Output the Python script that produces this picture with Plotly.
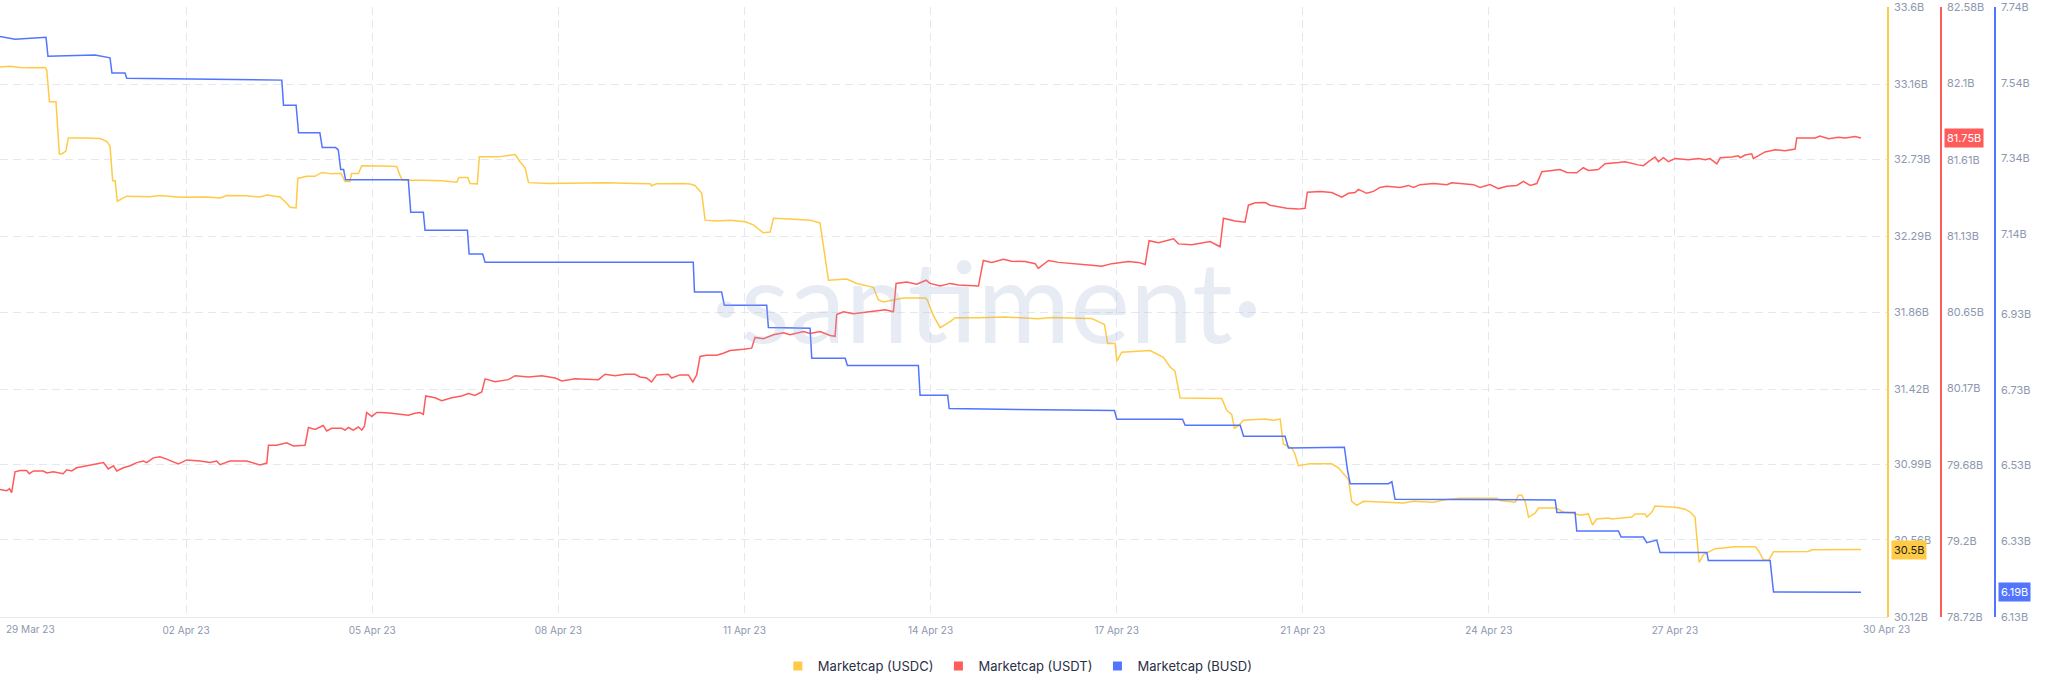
import pandas as pd
import plotly.graph_objects as go

# ---------------- data ----------------
START = pd.Timestamp("2023-03-29 23:00")

x_tick_labels = ["29 Mar 23", "02 Apr 23", "05 Apr 23", "08 Apr 23", "11 Apr 23", "14 Apr 23",
                 "17 Apr 23", "21 Apr 23", "24 Apr 23", "27 Apr 23", "30 Apr 23"]

usdc_ticks = [30.12, 30.56, 30.99, 31.42, 31.86, 32.29, 32.73, 33.16, 33.6]
usdc_tick_text = ["30.12B", "30.56B", "30.99B", "31.42B", "31.86B", "32.29B", "32.73B", "33.16B", "33.6B"]
usdt_ticks = [78.72, 79.2, 79.68, 80.17, 80.65, 81.13, 81.61, 82.1, 82.58]
usdt_tick_text = ["78.72B", "79.2B", "79.68B", "80.17B", "80.65B", "81.13B", "81.61B", "82.1B", "82.58B"]
busd_ticks = [6.13, 6.33, 6.53, 6.73, 6.93, 7.14, 7.34, 7.54, 7.74]
busd_tick_text = ["6.13B", "6.33B", "6.53B", "6.73B", "6.93B", "7.14B", "7.34B", "7.54B", "7.74B"]

end_labels = ["30.5B", "81.75B", "6.19B"]
series_names = ["Marketcap (USDC)", "Marketcap (USDT)", "Marketcap (BUSD)"]

# hours since START
usdc_hours = [0, 4.1, 8.3, 12.4, 18.6, 19.3, 20.4, 23.1, 24.5, 25.5, 27.2, 28.2, 34.4, 41.3, 44.0, 45.4, 46.5,
              47.5, 48.4, 50.2, 52.3, 61.9, 66.0, 74.3, 85.3, 90.8, 93.6, 101.8, 107.3, 110.1, 115.6, 118.3,
              119.7, 122.2, 122.9, 126.6, 130.0, 132.8, 136.9, 140.7, 142.4, 144.4, 145.1, 147.9, 149.3, 157.5,
              163.7, 165.1, 166.1, 174.0, 182.3, 188.5, 189.4, 193.0, 194.0, 197.0, 197.8, 205.7, 212.6, 214.6,
              216.7, 218.1, 226.3, 234.6, 249.7, 262.1, 268.3, 268.9, 271.0, 282.0, 284.8, 286.8, 289.6, 291.0,
              295.8, 301.3, 307.5, 310.9, 315.0, 317.8, 319.2, 326.0, 334.3, 338.4, 341.9, 349.4, 353.6, 360.4,
              362.5, 364.6, 368.7, 372.8, 381.8, 382.7, 385.2, 388.0, 392.1, 394.1, 403.8, 414.8, 428.5, 434.0,
              445.0, 450.5, 453.3, 455.8, 457.1, 460.2, 460.9, 462.9, 474.6, 478.1, 480.1, 482.9, 484.9, 487.0,
              504.2, 506.3, 508.3, 509.4, 511.1, 513.2, 522.1, 525.5, 528.3, 529.6, 533.1, 534.4, 535.8, 540.6,
              549.6, 552.3, 554.4, 556.5, 557.8, 559.9, 562.7, 577.8, 579.2, 583.3, 591.6, 597.1, 602.6, 617.7,
              619.1, 625.3, 626.6, 628.0, 629.4, 630.8, 633.5, 634.9, 641.8, 643.2, 645.2, 649.3, 652.1, 655.5,
              657.2, 658.9, 663.8, 665.1, 673.4, 674.8, 678.9, 679.6, 681.6, 683.0, 691.3, 695.4, 697.5, 699.5,
              701.2, 703.0, 705.0, 707.8, 716.0, 724.3, 725.7, 727.7, 729.8, 731.9, 746.3, 747.7, 768.0]
usdc_values = [33.258, 33.262, 33.255, 33.253, 33.255, 33.240, 33.059, 33.059, 32.762, 32.762, 32.778, 32.852,
               32.852, 32.850, 32.834, 32.807, 32.609, 32.609, 32.492, 32.505, 32.521, 32.518, 32.525, 32.515,
               32.516, 32.510, 32.525, 32.523, 32.516, 32.527, 32.516, 32.481, 32.458, 32.454, 32.622, 32.634,
               32.634, 32.656, 32.648, 32.652, 32.604, 32.604, 32.650, 32.650, 32.695, 32.693, 32.690, 32.638,
               32.611, 32.611, 32.609, 32.600, 32.627, 32.627, 32.593, 32.591, 32.746, 32.745, 32.758, 32.717,
               32.683, 32.598, 32.593, 32.595, 32.598, 32.593, 32.592, 32.580, 32.592, 32.593, 32.590, 32.582,
               32.537, 32.384, 32.379, 32.384, 32.375, 32.357, 32.312, 32.316, 32.395, 32.390, 32.384, 32.368,
               32.041, 32.048, 32.023, 32.001, 31.929, 31.917, 31.929, 31.940, 31.940, 31.929, 31.839, 31.771,
               31.805, 31.827, 31.827, 31.831, 31.822, 31.829, 31.825, 31.823, 31.805, 31.789, 31.681, 31.681,
               31.580, 31.631, 31.640, 31.613, 31.602, 31.546, 31.523, 31.370, 31.366, 31.298, 31.276, 31.197,
               31.212, 31.242, 31.249, 31.242, 31.249, 31.107, 31.084, 31.050, 30.983, 30.994, 30.994, 30.971,
               30.938, 30.904, 30.780, 30.757, 30.780, 30.775, 30.771, 30.780, 30.775, 30.791, 30.798, 30.798,
               30.784, 30.775, 30.814, 30.814, 30.780, 30.690, 30.712, 30.742, 30.742, 30.735, 30.717, 30.712,
               30.701, 30.708, 30.645, 30.679, 30.685, 30.679, 30.690, 30.708, 30.708, 30.690, 30.717, 30.753,
               30.746, 30.735, 30.719, 30.690, 30.431, 30.476, 30.492, 30.510, 30.521, 30.521, 30.498, 30.447,
               30.442, 30.492, 30.494, 30.503, 30.505]

usdt_hours = [0, 2.8, 3.9, 4.8, 6.2, 8.3, 11.0, 12.1, 13.8, 17.9, 19.3, 22.0, 26.1, 27.5, 29.6, 31.6, 35.8,
              39.9, 42.7, 44.7, 46.8, 48.2, 50.9, 53.7, 56.4, 59.2, 60.5, 63.3, 66.0, 68.8, 73.6, 77.1, 82.6,
              86.7, 89.4, 90.8, 94.9, 101.8, 107.3, 110.1, 110.8, 114.2, 118.3, 121.1, 125.9, 127.3, 130.0,
              133.4, 134.8, 136.9, 141.0, 142.4, 143.8, 145.8, 147.9, 149.3, 150.4, 151.3, 153.4, 155.5, 157.5,
              161.6, 165.1, 168.5, 171.3, 173.3, 174.7, 175.7, 179.5, 182.3, 186.4, 190.5, 193.3, 196.0, 198.8,
              200.2, 204.3, 209.8, 212.6, 218.1, 223.6, 229.1, 231.8, 237.3, 247.0, 249.7, 253.8, 258.0, 262.1,
              264.1, 266.9, 268.9, 271.0, 275.8, 277.2, 280.6, 284.1, 285.9, 287.5, 288.9, 291.6, 295.8, 298.5,
              301.3, 306.8, 310.2, 311.6, 315.0, 319.2, 323.3, 326.0, 330.2, 331.6, 334.3, 338.4, 342.6, 344.6,
              345.3, 348.1, 352.2, 356.3, 361.8, 365.3, 368.7, 369.8, 374.2, 378.3, 382.2, 383.8, 388.0, 392.1,
              395.5, 403.8, 405.8, 409.3, 414.1, 417.5, 423.0, 427.2, 428.5, 432.7, 436.8, 445.0, 450.5, 454.7,
              458.8, 465.7, 469.8, 472.6, 474.2, 478.1, 484.3, 486.3, 491.8, 499.4, 503.5, 504.9, 509.7, 513.8,
              515.2, 518.0, 522.1, 524.1, 528.3, 531.0, 535.8, 538.6, 539.5, 544.8, 549.6, 552.3, 553.7, 556.5,
              559.2, 560.6, 564.0, 566.8, 569.5, 572.3, 577.8, 581.2, 583.3, 586.0, 591.6, 597.1, 599.1, 602.6,
              608.1, 610.8, 614.9, 618.4, 621.8, 626.0, 628.7, 631.5, 634.2, 636.3, 639.7, 643.8, 646.6, 650.7,
              653.4, 655.5, 659.6, 662.4, 667.9, 670.6, 676.1, 678.2, 680.3, 683.0, 684.4, 686.5, 688.5, 691.3,
              696.8, 700.9, 703.7, 705.7, 708.5, 709.9, 714.7, 717.4, 718.1, 720.2, 722.9, 723.6, 726.4, 728.4,
              732.6, 736.7, 740.8, 741.5, 749.1, 751.1, 754.6, 758.7, 761.5, 765.6, 768.0]
usdt_values = [79.527, 79.519, 79.532, 79.507, 79.639, 79.647, 79.647, 79.627, 79.644, 79.644, 79.632, 79.639,
               79.627, 79.652, 79.644, 79.664, 79.677, 79.689, 79.697, 79.657, 79.677, 79.644, 79.664, 79.677,
               79.697, 79.707, 79.697, 79.727, 79.734, 79.719, 79.689, 79.714, 79.707, 79.697, 79.707, 79.684,
               79.707, 79.707, 79.682, 79.694, 79.807, 79.807, 79.822, 79.802, 79.807, 79.919, 79.907, 79.932,
               79.897, 79.914, 79.914, 79.902, 79.919, 79.902, 79.922, 79.902, 79.927, 80.014, 79.989, 80.014,
               80.014, 80.009, 80.002, 79.997, 80.009, 80.014, 80.002, 80.119, 80.107, 80.089, 80.107, 80.119,
               80.134, 80.122, 80.144, 80.227, 80.209, 80.222, 80.247, 80.239, 80.247, 80.232, 80.214, 80.227,
               80.222, 80.256, 80.247, 80.256, 80.256, 80.239, 80.232, 80.207, 80.252, 80.256, 80.232, 80.252,
               80.252, 80.207, 80.252, 80.369, 80.376, 80.376, 80.389, 80.406, 80.414, 80.421, 80.489, 80.481,
               80.506, 80.519, 80.506, 80.521, 80.526, 80.514, 80.526, 80.501, 80.496, 80.634, 80.651, 80.639,
               80.646, 80.656, 80.664, 80.651, 80.831, 80.839, 80.826, 80.851, 80.831, 80.814, 80.831, 80.821,
               80.814, 80.976, 80.964, 80.984, 80.971, 80.969, 80.956, 80.926, 80.976, 80.964, 80.956, 80.946,
               80.939, 80.956, 80.969, 80.964, 80.951, 81.101, 81.088, 81.113, 81.081, 81.076, 81.096, 81.063,
               81.243, 81.226, 81.218, 81.326, 81.341, 81.343, 81.326, 81.313, 81.306, 81.301, 81.306, 81.408,
               81.413, 81.406, 81.388, 81.376, 81.401, 81.406, 81.426, 81.401, 81.413, 81.438, 81.446, 81.438,
               81.451, 81.438, 81.456, 81.463, 81.456, 81.468, 81.463, 81.456, 81.438, 81.456, 81.431, 81.446,
               81.451, 81.476, 81.451, 81.463, 81.538, 81.546, 81.551, 81.533, 81.531, 81.563, 81.546, 81.551,
               81.588, 81.596, 81.601, 81.581, 81.576, 81.601, 81.631, 81.601, 81.626, 81.601, 81.621, 81.613,
               81.621, 81.613, 81.621, 81.588, 81.626, 81.631, 81.638, 81.626, 81.643, 81.651, 81.621, 81.646,
               81.663, 81.676, 81.671, 81.681, 81.751, 81.751, 81.763, 81.746, 81.756, 81.751, 81.761, 81.751]

busd_hours = [0, 6.2, 19.0, 19.8, 39.2, 45.4, 46.2, 51.6, 52.3, 84.0, 116.3, 117.0, 122.2, 123.2, 132.0, 133.0,
              138.5, 139.6, 140.6, 141.8, 142.6, 168.5, 169.5, 174.7, 175.4, 192.9, 193.6, 199.2, 200.2, 286.1,
              286.6, 297.8, 298.9, 316.4, 317.1, 334.3, 335.0, 348.8, 349.7, 379.0, 379.7, 391.1, 391.7, 459.9,
              460.9, 488.0, 489.1, 511.8, 513.2, 530.3, 531.7, 554.8, 556.1, 557.2, 573.0, 574.4, 575.7, 641.8,
              642.5, 650.0, 650.7, 667.9, 669.0, 678.2, 679.6, 683.7, 685.1, 704.4, 705.0, 730.5, 731.9, 768.0]
busd_values = [7.662, 7.655, 7.660, 7.610, 7.613, 7.606, 7.566, 7.566, 7.552, 7.550, 7.547, 7.481, 7.481, 7.408,
               7.408, 7.369, 7.369, 7.363, 7.311, 7.311, 7.284, 7.284, 7.198, 7.198, 7.151, 7.151, 7.088, 7.088,
               7.066, 7.066, 6.988, 6.988, 6.953, 6.953, 6.894, 6.892, 6.813, 6.813, 6.794, 6.794, 6.715, 6.715,
               6.680, 6.675, 6.652, 6.652, 6.636, 6.636, 6.607, 6.607, 6.576, 6.578, 6.517, 6.482, 6.482, 6.487,
               6.441, 6.439, 6.406, 6.406, 6.357, 6.357, 6.341, 6.341, 6.326, 6.333, 6.300, 6.300, 6.279, 6.279,
               6.196, 6.195]

for hh, vv in [(usdc_hours, usdc_values), (usdt_hours, usdt_values), (busd_hours, busd_values)]:
    if len(hh) != len(vv):
        raise ValueError(f"length mismatch {len(hh)} vs {len(vv)}")

# ---------------- styling ----------------
W, H = 2048, 693
PLOT_RIGHT = 1888
C_USDC, C_USDT, C_BUSD = "#FFCB47", "#FF5B5B", "#5275FF"
TICK_COLOR = "#8D97B0"
GRID = "#E4E8F0"
FONT = "Inter, Roboto, sans-serif"

HOURS_SPAN = 768.0          # data span
VIEW_HOURS = HOURS_SPAN * PLOT_RIGHT / 1861.0
TICK_STEP = HOURS_SPAN / 10


def to_dates(hours):
    return [START + pd.Timedelta(hours=h) for h in hours]


tick_dates = [START + pd.Timedelta(hours=TICK_STEP * k) for k in range(len(x_tick_labels))]

fig = go.Figure()
for hh, vv, col, ax in [(usdc_hours, usdc_values, C_USDC, "y"),
                        (usdt_hours, usdt_values, C_USDT, "y2"),
                        (busd_hours, busd_values, C_BUSD, "y3")]:
    fig.add_trace(go.Scatter(x=to_dates(hh), y=vv, mode="lines", yaxis=ax,
                             line=dict(color=col, width=1.5), showlegend=False, hoverinfo="skip"))

# legend entries (square swatches)
for name, col in zip(series_names, [C_USDC, C_USDT, C_BUSD]):
    fig.add_trace(go.Scatter(x=[None], y=[None], mode="markers", name=name,
                             marker=dict(symbol="square", size=9, color=col)))

yaxis_common = dict(side="right", anchor="free", zeroline=False, showline=True, linewidth=1.5,
                    ticks="outside", ticklen=3, tickcolor="rgba(0,0,0,0)",
                    ticklabeloverflow="allow",
                    tickfont=dict(family=FONT, size=11, color=TICK_COLOR), fixedrange=True)

fig.update_layout(
    width=W, height=H,
    margin=dict(l=0, r=0, t=7, b=76),
    paper_bgcolor="white", plot_bgcolor="white",
    font=dict(family=FONT),
    xaxis=dict(
        domain=[0, PLOT_RIGHT / W], type="date",
        range=[START, START + pd.Timedelta(hours=VIEW_HOURS)],
        tickvals=tick_dates[:-1],
        ticktext=[""] + x_tick_labels[1:-1],
        tickfont=dict(family=FONT, size=10, color=TICK_COLOR),
        showgrid=True, gridcolor=GRID, griddash="8px,5px", gridwidth=1,
        showline=True, linecolor="#E4E8F0", linewidth=1, zeroline=False,
        ticks="outside", ticklen=4, tickcolor="rgba(0,0,0,0)",
    ),
    yaxis=dict(range=[30.12, 33.6], tickvals=usdc_ticks, ticktext=usdc_tick_text,
               position=PLOT_RIGHT / W, linecolor=C_USDC,
               showgrid=True, gridcolor=GRID, griddash="8px,5px", gridwidth=1, **yaxis_common),
    yaxis2=dict(range=[78.72, 82.58], tickvals=usdt_ticks, ticktext=usdt_tick_text, overlaying="y",
                position=1941 / W, linecolor=C_USDT, showgrid=False, **yaxis_common),
    yaxis3=dict(range=[6.13, 7.74], tickvals=busd_ticks, ticktext=busd_tick_text, overlaying="y",
                position=1995 / W, linecolor=C_BUSD, showgrid=False, **yaxis_common),
    legend=dict(orientation="h", x=0.497, xanchor="center", y=-49 / 610, yanchor="middle",
                font=dict(family=FONT, size=13, color="#2A2F45"), itemwidth=30,
                bgcolor="rgba(0,0,0,0)"),
)

annotations = [
    # watermark
    dict(text="·santiment·", x=986 / W, y=(617 - 299) / 610, xref="paper", yref="paper",
         showarrow=False,
         font=dict(family="Lato, sans-serif", size=113, color="rgba(160,175,210,0.25)"),
         xanchor="center", yanchor="middle"),
    # first / last x tick labels (clamped like the original)
    dict(text=x_tick_labels[0], x=tick_dates[0], xref="x", y=-12 / 610, yref="paper", xanchor="left",
         yanchor="middle", showarrow=False, xshift=4, font=dict(family=FONT, size=10, color=TICK_COLOR)),
    dict(text=x_tick_labels[-1], x=tick_dates[-1], xref="x", y=-12 / 610, yref="paper", xanchor="left",
         yanchor="middle", showarrow=False, font=dict(family=FONT, size=10, color=TICK_COLOR)),
]
for lab, val, ref, xpos, bg, fc in [(end_labels[0], usdc_values[-1], "y", 1891, C_USDC, "#1E1E1E"),
                                    (end_labels[1], usdt_values[-1], "y2", 1944, C_USDT, "white"),
                                    (end_labels[2], busd_values[-1], "y3", 1998, C_BUSD, "white")]:
    annotations.append(dict(text=lab, x=xpos / W, xref="paper", y=val, yref=ref, xanchor="left",
                            yanchor="middle", showarrow=False, bgcolor=bg, borderpad=2,
                            font=dict(family=FONT, size=11, color=fc)))
fig.update_layout(annotations=annotations)

fig.write_html("out.html")
